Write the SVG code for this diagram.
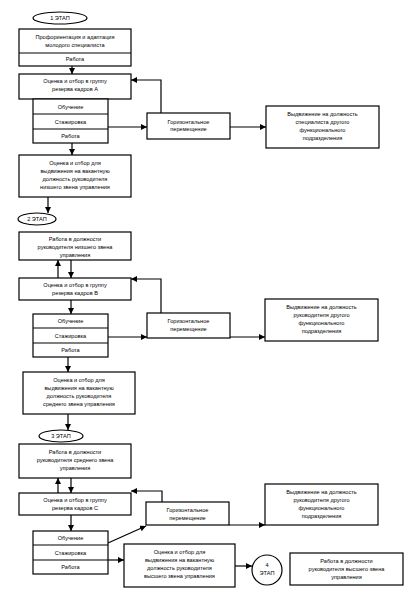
<svg xmlns="http://www.w3.org/2000/svg" width="416" height="606" viewBox="0 0 416 606">
<defs>
<marker id="ah" viewBox="0 0 10 10" refX="10" refY="5" markerWidth="6" markerHeight="6" markerUnits="userSpaceOnUse" orient="auto">
<path d="M0,0 L10,5 L0,10 Z" fill="#000"/>
</marker>
<style>
.b{fill:#fff;stroke:#000;stroke-width:1.2}
.d{stroke:#000;stroke-width:1.2;fill:none}
.c{stroke:#000;stroke-width:1.2;fill:none;marker-end:url(#ah)}
text{font-family:"Liberation Sans",Arial,sans-serif;font-size:5.6px;fill:#000;text-anchor:middle}
</style>
</defs>
<rect width="416" height="606" fill="#fff"/>

<g id="connectors">
<path class="c" d="M72 53 V74"/>
<path class="c" d="M72 84 V99"/>
<path class="c" d="M108 127 H147"/>
<path class="c" d="M161 113 V80 H131"/>
<path class="c" d="M230 127 H266"/>
<path class="c" d="M72 143 V155"/>
<path class="c" d="M48 197 V213"/>

<path class="c" d="M58 278 V260"/>
<path class="c" d="M71 260 V278"/>
<path class="c" d="M71 300 V314"/>
<path class="c" d="M108 337 H147"/>
<path class="c" d="M161 313 V279 H131"/>
<path class="c" d="M230 337 H265"/>
<path class="c" d="M68 357 V372"/>
<path class="c" d="M68 414 V430"/>

<path class="c" d="M58 493 V478"/>
<path class="c" d="M71 478 V493"/>
<path class="c" d="M71 515 V531"/>
<path class="c" d="M162 502 V491 H131"/>
<path class="c" d="M108 543 L146 526"/>
<path class="c" d="M229 525 H265"/>
<path class="c" d="M108 560 H124"/>
<path class="c" d="M235 566 H252"/>
</g>

<g id="stage1">
<ellipse class="b" cx="60" cy="18" rx="27" ry="6"/>
<text x="60" y="20">1 ЭТАП</text>
</g>
<g id="prof">
<rect class="b" x="19" y="29" width="112" height="37"/>
<path class="d" d="M19 53 H131"/>
<text x="75" y="39">Профориентация  и адаптация</text>
<text x="75" y="47">молодого  специалиста</text>
<text x="75" y="61">Работа</text>
</g>
<g id="evalA">
<rect class="b" x="19" y="74" width="112" height="25"/>
<text x="75" y="83">Оценка и отбор   в группу</text>
<text x="75" y="91">резерва кадров А</text>
</g>
<g id="train1">
<rect class="b" x="33" y="99" width="75" height="44"/>
<path class="d" d="M33 114 H108 M33 129 H108"/>
<text x="70.5" y="108.5">Обучение</text>
<text x="70.5" y="123.5">Стажировка</text>
<text x="70.5" y="138">Работа</text>
</g>
<g id="horiz1">
<rect class="b" x="147" y="113" width="83" height="26"/>
<text x="188.5" y="124">Горизонтальное</text>
<text x="188.5" y="131">перемещение</text>
</g>
<g id="promo1">
<rect class="b" x="266" y="106" width="113" height="42"/>
<text x="322.5" y="116">Выдвижение на должность</text>
<text x="322.5" y="124">специалиста другого</text>
<text x="322.5" y="132">функционального</text>
<text x="322.5" y="140">подразделения</text>
</g>
<g id="evalLow">
<rect class="b" x="19" y="155" width="112" height="42"/>
<text x="75" y="165">Оценка и отбор   для</text>
<text x="75" y="173">выдвижения  на вакантную</text>
<text x="75" y="181">должность  руководителя</text>
<text x="75" y="189">низшего звена  управления</text>
</g>

<g id="stage2">
<ellipse class="b" cx="37" cy="219" rx="19" ry="6"/>
<text x="37" y="221">2 ЭТАП</text>
</g>
<g id="workLow">
<rect class="b" x="19" y="232" width="112" height="28"/>
<text x="75" y="241">Работа в должности</text>
<text x="75" y="249">руководителя  низшего звена</text>
<text x="75" y="257">управления</text>
</g>
<g id="evalB">
<rect class="b" x="19" y="278" width="112" height="22"/>
<text x="75" y="287">Оценка и отбор   в группу</text>
<text x="75" y="295">резерва кадров В</text>
</g>
<g id="train2">
<rect class="b" x="33" y="314" width="75" height="43"/>
<path class="d" d="M33 328 H108 M33 343 H108"/>
<text x="70.5" y="323">Обучение</text>
<text x="70.5" y="337.5">Стажировка</text>
<text x="70.5" y="352">Работа</text>
</g>
<g id="horiz2">
<rect class="b" x="147" y="313" width="83" height="25"/>
<text x="188.5" y="323">Горизонтальное</text>
<text x="188.5" y="331">перемещение</text>
</g>
<g id="promo2">
<rect class="b" x="265" y="299" width="113" height="42"/>
<text x="321.5" y="309">Выдвижение на должность</text>
<text x="321.5" y="317">руководителя  другого</text>
<text x="321.5" y="325">функционального</text>
<text x="321.5" y="333">подразделения</text>
</g>
<g id="evalMid">
<rect class="b" x="23" y="372" width="112" height="42"/>
<text x="79" y="382">Оценка и отбор   для</text>
<text x="79" y="390">выдвижения  на вакантную</text>
<text x="79" y="398">должность  руководителя</text>
<text x="79" y="406">среднего звена  управления</text>
</g>

<g id="stage3">
<ellipse class="b" cx="61" cy="436" rx="22" ry="6"/>
<text x="61" y="438">3 ЭТАП</text>
</g>
<g id="workMid">
<rect class="b" x="19" y="444" width="112" height="34"/>
<text x="75" y="454">Работа в должности</text>
<text x="75" y="462">руководителя  среднего  звена</text>
<text x="75" y="470">управления</text>
</g>
<g id="evalC">
<rect class="b" x="19" y="493" width="112" height="22"/>
<text x="75" y="502">Оценка и отбор   в группу</text>
<text x="75" y="510">резерва кадров С</text>
</g>
<g id="train3">
<rect class="b" x="33" y="531" width="75" height="43"/>
<path class="d" d="M33 545 H108 M33 560 H108"/>
<text x="70.5" y="540">Обучение</text>
<text x="70.5" y="554.5">Стажировка</text>
<text x="70.5" y="569">Работа</text>
</g>
<g id="horiz3">
<rect class="b" x="146" y="502" width="83" height="23"/>
<text x="187.5" y="512">Горизонтальное</text>
<text x="187.5" y="520">перемещение</text>
</g>
<g id="promo3">
<rect class="b" x="265" y="484" width="113" height="41"/>
<text x="321.5" y="494">Выдвижение на должность</text>
<text x="321.5" y="502">руководителя  другого</text>
<text x="321.5" y="510">функционального</text>
<text x="321.5" y="518">подразделения</text>
</g>
<g id="evalHigh">
<rect class="b" x="124" y="544" width="111" height="43"/>
<text x="179.5" y="554">Оценка и отбор   для</text>
<text x="179.5" y="562">выдвижения  на вакантную</text>
<text x="179.5" y="570">должность  руководителя</text>
<text x="179.5" y="578">высшего звена  управления</text>
</g>
<g id="stage4">
<circle class="b" cx="267" cy="570" r="15"/>
<text x="267" y="567">4</text>
<text x="267" y="575">ЭТАП</text>
</g>
<g id="workHigh">
<rect class="b" x="290" y="553" width="113" height="32"/>
<text x="346.5" y="563">Работа в должности</text>
<text x="346.5" y="571">руководителя высшего звена</text>
<text x="346.5" y="579">управления</text>
</g>
</svg>
